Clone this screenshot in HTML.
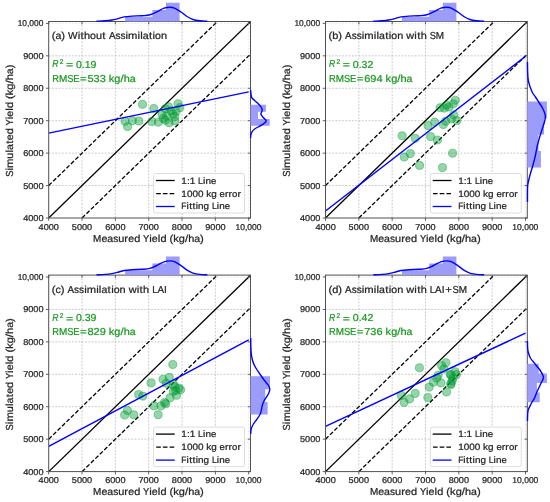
<!DOCTYPE html>
<html><head><meta charset="utf-8"><style>
html,body{margin:0;padding:0;background:#fff;}
svg{display:block;will-change:transform;}
text{font-family:"Liberation Sans", sans-serif;font-kerning:none;text-rendering:geometricPrecision;}
.tk{fill:#262626;stroke:#262626;stroke-width:0.24px;}
.tt{fill:#262626;stroke:#262626;stroke-width:0.24px;}
.gr{fill:#189820;stroke:#189820;stroke-width:0.22px;}
.lg{fill:#262626;stroke:#262626;stroke-width:0.24px;}
.al{fill:#262626;stroke:#262626;stroke-width:0.24px;}
</style></head><body>
<svg width="550" height="502" viewBox="0 0 550 502">
<rect width="550" height="502" fill="#fff"/>
<g transform="translate(0,0)">
<clipPath id="ca"><rect x="48.7" y="21.5" width="201.8" height="196.5"/></clipPath>
<path d="M82.03,21.5V218.0M48.7,185.57H250.5M115.37,21.5V218.0M48.7,153.13H250.5M148.7,21.5V218.0M48.7,120.7H250.5M182.03,21.5V218.0M48.7,88.27H250.5M215.37,21.5V218.0M48.7,55.83H250.5" stroke="#b4b4b4" stroke-width="0.7" stroke-dasharray="1.9,1.4" fill="none"/>
<path d="M248.7,21.5V218.0M48.7,23.4H250.5" stroke="#b4b4b4" stroke-opacity="0.4" stroke-width="0.7" stroke-dasharray="1.9,1.4" fill="none"/>
<g clip-path="url(#ca)">
<path d="M48.7,218L252.03,20.16" stroke="#000" stroke-width="1.3" fill="none"/>
<path d="M48.7,185.57L218.7,20.16M82.03,218L252.03,52.59" stroke="#000" stroke-width="1.3" stroke-dasharray="4.2,2" fill="none"/>
<circle cx="142.5" cy="104.3" r="4.05" fill="#009b32" fill-opacity="0.42" stroke="#009b32" stroke-opacity="0.42" stroke-width="1"/>
<circle cx="125" cy="121.3" r="4.05" fill="#009b32" fill-opacity="0.42" stroke="#009b32" stroke-opacity="0.42" stroke-width="1"/>
<circle cx="127.6" cy="126.5" r="4.05" fill="#009b32" fill-opacity="0.42" stroke="#009b32" stroke-opacity="0.42" stroke-width="1"/>
<circle cx="132.5" cy="120.7" r="4.05" fill="#009b32" fill-opacity="0.42" stroke="#009b32" stroke-opacity="0.42" stroke-width="1"/>
<circle cx="138.9" cy="121" r="4.05" fill="#009b32" fill-opacity="0.42" stroke="#009b32" stroke-opacity="0.42" stroke-width="1"/>
<circle cx="153.8" cy="108.5" r="4.05" fill="#009b32" fill-opacity="0.42" stroke="#009b32" stroke-opacity="0.42" stroke-width="1"/>
<circle cx="151.9" cy="121.6" r="4.05" fill="#009b32" fill-opacity="0.42" stroke="#009b32" stroke-opacity="0.42" stroke-width="1"/>
<circle cx="158.3" cy="122.2" r="4.05" fill="#009b32" fill-opacity="0.42" stroke="#009b32" stroke-opacity="0.42" stroke-width="1"/>
<circle cx="178" cy="103.7" r="4.05" fill="#009b32" fill-opacity="0.42" stroke="#009b32" stroke-opacity="0.42" stroke-width="1"/>
<circle cx="179.9" cy="107.6" r="4.05" fill="#009b32" fill-opacity="0.42" stroke="#009b32" stroke-opacity="0.42" stroke-width="1"/>
<circle cx="168.5" cy="106.9" r="4.05" fill="#009b32" fill-opacity="0.42" stroke="#009b32" stroke-opacity="0.42" stroke-width="1"/>
<circle cx="165.3" cy="108.8" r="4.05" fill="#009b32" fill-opacity="0.42" stroke="#009b32" stroke-opacity="0.42" stroke-width="1"/>
<circle cx="162.1" cy="114.6" r="4.05" fill="#009b32" fill-opacity="0.42" stroke="#009b32" stroke-opacity="0.42" stroke-width="1"/>
<circle cx="166.6" cy="115.8" r="4.05" fill="#009b32" fill-opacity="0.42" stroke="#009b32" stroke-opacity="0.42" stroke-width="1"/>
<circle cx="172.9" cy="113.9" r="4.05" fill="#009b32" fill-opacity="0.42" stroke="#009b32" stroke-opacity="0.42" stroke-width="1"/>
<circle cx="174.8" cy="116.5" r="4.05" fill="#009b32" fill-opacity="0.42" stroke="#009b32" stroke-opacity="0.42" stroke-width="1"/>
<circle cx="165.3" cy="120.3" r="4.05" fill="#009b32" fill-opacity="0.42" stroke="#009b32" stroke-opacity="0.42" stroke-width="1"/>
<circle cx="169.1" cy="122.8" r="4.05" fill="#009b32" fill-opacity="0.42" stroke="#009b32" stroke-opacity="0.42" stroke-width="1"/>
<circle cx="174.8" cy="120.9" r="4.05" fill="#009b32" fill-opacity="0.42" stroke="#009b32" stroke-opacity="0.42" stroke-width="1"/>
<circle cx="163.4" cy="118.4" r="4.05" fill="#009b32" fill-opacity="0.42" stroke="#009b32" stroke-opacity="0.42" stroke-width="1"/>
<circle cx="171" cy="110.7" r="4.05" fill="#009b32" fill-opacity="0.42" stroke="#009b32" stroke-opacity="0.42" stroke-width="1"/>
<circle cx="176.1" cy="111.4" r="4.05" fill="#009b32" fill-opacity="0.42" stroke="#009b32" stroke-opacity="0.42" stroke-width="1"/>
<path d="M48.7,133.09L248.7,91.9" stroke="#0000ff" stroke-width="1.4" fill="none"/>
</g>
<rect x="48.7" y="21.5" width="201.8" height="196.5" fill="none" stroke="#505050" stroke-width="1"/>
<path d="M48.7,218.0v2.8M48.7,218h-2.8M48.7,21.5v2.8M250.5,218h-2.4M82.03,218.0v2.8M48.7,185.57h-2.8M82.03,21.5v2.8M250.5,185.57h-2.4M115.37,218.0v2.8M48.7,153.13h-2.8M115.37,21.5v2.8M250.5,153.13h-2.4M148.7,218.0v2.8M48.7,120.7h-2.8M148.7,21.5v2.8M250.5,120.7h-2.4M182.03,218.0v2.8M48.7,88.27h-2.8M182.03,21.5v2.8M250.5,88.27h-2.4M215.37,218.0v2.8M48.7,55.83h-2.8M215.37,21.5v2.8M250.5,55.83h-2.4M248.7,218.0v2.8M48.7,23.4h-2.8M248.7,21.5v2.8M250.5,23.4h-2.4" stroke="#505050" stroke-width="0.9" fill="none"/>
<g font-size="8.48" class="tk"><text transform="translate(38.59,229.5) scale(1.079,1)">4</text><text transform="translate(43.68,229.5) scale(1.079,1)">0</text><text transform="translate(48.77,229.5) scale(1.079,1)">0</text><text transform="translate(53.86,229.5) scale(1.079,1)">0</text></g>
<g font-size="8.48" class="tk"><text transform="translate(23.17,221) scale(1.079,1)">4</text><text transform="translate(28.26,221) scale(1.079,1)">0</text><text transform="translate(33.35,221) scale(1.079,1)">0</text><text transform="translate(38.44,221) scale(1.079,1)">0</text></g>
<g font-size="8.48" class="tk"><text transform="translate(71.81,229.5) scale(1.079,1)">5</text><text transform="translate(76.9,229.5) scale(1.079,1)">0</text><text transform="translate(81.99,229.5) scale(1.079,1)">0</text><text transform="translate(87.08,229.5) scale(1.079,1)">0</text></g>
<g font-size="8.48" class="tk"><text transform="translate(23.17,188.57) scale(1.079,1)">5</text><text transform="translate(28.26,188.57) scale(1.079,1)">0</text><text transform="translate(33.35,188.57) scale(1.079,1)">0</text><text transform="translate(38.44,188.57) scale(1.079,1)">0</text></g>
<g font-size="8.48" class="tk"><text transform="translate(105.17,229.5) scale(1.079,1)">6</text><text transform="translate(110.26,229.5) scale(1.079,1)">0</text><text transform="translate(115.35,229.5) scale(1.079,1)">0</text><text transform="translate(120.44,229.5) scale(1.079,1)">0</text></g>
<g font-size="8.48" class="tk"><text transform="translate(23.17,156.13) scale(1.079,1)">6</text><text transform="translate(28.26,156.13) scale(1.079,1)">0</text><text transform="translate(33.35,156.13) scale(1.079,1)">0</text><text transform="translate(38.44,156.13) scale(1.079,1)">0</text></g>
<g font-size="8.48" class="tk"><text transform="translate(138.46,229.5) scale(1.079,1)">7</text><text transform="translate(143.55,229.5) scale(1.079,1)">0</text><text transform="translate(148.64,229.5) scale(1.079,1)">0</text><text transform="translate(153.73,229.5) scale(1.079,1)">0</text></g>
<g font-size="8.48" class="tk"><text transform="translate(23.17,123.7) scale(1.079,1)">7</text><text transform="translate(28.26,123.7) scale(1.079,1)">0</text><text transform="translate(33.35,123.7) scale(1.079,1)">0</text><text transform="translate(38.44,123.7) scale(1.079,1)">0</text></g>
<g font-size="8.48" class="tk"><text transform="translate(171.85,229.5) scale(1.079,1)">8</text><text transform="translate(176.94,229.5) scale(1.079,1)">0</text><text transform="translate(182.03,229.5) scale(1.079,1)">0</text><text transform="translate(187.12,229.5) scale(1.079,1)">0</text></g>
<g font-size="8.48" class="tk"><text transform="translate(23.17,91.27) scale(1.079,1)">8</text><text transform="translate(28.26,91.27) scale(1.079,1)">0</text><text transform="translate(33.35,91.27) scale(1.079,1)">0</text><text transform="translate(38.44,91.27) scale(1.079,1)">0</text></g>
<g font-size="8.48" class="tk"><text transform="translate(205.2,229.5) scale(1.079,1)">9</text><text transform="translate(210.29,229.5) scale(1.079,1)">0</text><text transform="translate(215.38,229.5) scale(1.079,1)">0</text><text transform="translate(220.47,229.5) scale(1.079,1)">0</text></g>
<g font-size="8.48" class="tk"><text transform="translate(23.17,58.83) scale(1.079,1)">9</text><text transform="translate(28.26,58.83) scale(1.079,1)">0</text><text transform="translate(33.35,58.83) scale(1.079,1)">0</text><text transform="translate(38.44,58.83) scale(1.079,1)">0</text></g>
<text x="235.55" y="229.5" font-size="8.48" textLength="25.98" lengthAdjust="spacingAndGlyphs" class="tk">10,000</text>
<text x="17.66" y="26.4" font-size="8.48" textLength="25.67" lengthAdjust="spacingAndGlyphs" class="tk">10,000</text>
<g font-size="10.18" class="tt"><text transform="translate(51.67,39.2) scale(1.105,1)">(</text><text transform="translate(55.42,39.2) scale(1.039,1)">a</text><text transform="translate(61.3,39.2) scale(1.105,1)">)</text><text transform="translate(68.1,39.2) scale(0.988,1)">W</text><text transform="translate(77.66,39.2) scale(1.120,1)">i</text><text transform="translate(80.56,39.2) scale(1.120,1)">t</text><text transform="translate(84.02,39.2) scale(1.075,1)">h</text><text transform="translate(90.11,39.2) scale(1.038,1)">o</text><text transform="translate(95.98,39.2) scale(1.075,1)">u</text><text transform="translate(102.36,39.2) scale(1.120,1)">t</text><text transform="translate(108.88,39.2) scale(0.968,1)">A</text><text transform="translate(115.45,39.2) scale(0.983,1)">s</text><text transform="translate(120.45,39.2) scale(0.983,1)">s</text><text transform="translate(125.52,39.2) scale(1.120,1)">i</text><text transform="translate(128.12,39.2) scale(1.103,1)">m</text><text transform="translate(137.54,39.2) scale(1.120,1)">i</text><text transform="translate(140.21,39.2) scale(1.120,1)">l</text><text transform="translate(142.8,39.2) scale(1.039,1)">a</text><text transform="translate(148.99,39.2) scale(1.120,1)">t</text><text transform="translate(152.52,39.2) scale(1.120,1)">i</text><text transform="translate(155.12,39.2) scale(1.038,1)">o</text><text transform="translate(160.99,39.2) scale(1.075,1)">n</text></g>
<text x="52.23" y="67.4" font-size="10.18" textLength="6.23" lengthAdjust="spacingAndGlyphs" class="gr" font-style="italic">R</text>
<text x="59.77" y="64.1" font-size="7.1" textLength="3.66" lengthAdjust="spacingAndGlyphs" class="gr">2</text>
<text x="66" y="68.2" font-size="10.18" textLength="7.21" lengthAdjust="spacingAndGlyphs" class="gr">=</text>
<text x="75.99" y="67.5" font-size="10.18" textLength="20.51" lengthAdjust="spacingAndGlyphs" class="gr">0.19</text>
<g font-size="10.18" class="gr"><text transform="translate(52.21,81.8) scale(0.920,1)">R</text><text transform="translate(58.93,81.8) scale(0.977,1)">M</text><text transform="translate(67.14,81.8) scale(0.920,1)">S</text><text transform="translate(73.22,81.8) scale(0.920,1)">E</text><text transform="translate(80.06,81.8) scale(1.120,1)">=</text><text transform="translate(87.41,81.8) scale(1.079,1)">5</text><text transform="translate(93.52,81.8) scale(1.079,1)">3</text><text transform="translate(99.63,81.8) scale(1.079,1)">3</text><text transform="translate(108.79,81.8) scale(1.093,1)">k</text><text transform="translate(114.35,81.8) scale(1.077,1)">g</text><text transform="translate(120.48,81.8) scale(1.120,1)">/</text><text transform="translate(123.68,81.8) scale(1.075,1)">h</text><text transform="translate(129.76,81.8) scale(1.039,1)">a</text></g>
<rect x="153.6" y="173.5" width="90.9" height="39.5" rx="2" fill="#fff" fill-opacity="0.97" stroke="#d4d4d4" stroke-width="0.8"/>
<path d="M155.9,180.5h18.8" stroke="#000" stroke-width="1.3"/>
<path d="M156.2,193.6h18.5" stroke="#000" stroke-width="1.3" stroke-dasharray="4.6,2.1"/>
<path d="M155.9,206.5h18.8" stroke="#0000ff" stroke-width="1.3"/>
<g font-size="9.22" class="lg"><text transform="translate(181.34,183.8) scale(1.079,1)">1</text><text transform="translate(186.91,183.8) scale(1.120,1)">:</text><text transform="translate(189.81,183.8) scale(1.079,1)">1</text><text transform="translate(198.11,183.8) scale(0.945,1)">L</text><text transform="translate(203.02,183.8) scale(1.120,1)">i</text><text transform="translate(205.38,183.8) scale(1.075,1)">n</text><text transform="translate(210.89,183.8) scale(1.044,1)">e</text></g>
<g font-size="9.22" class="lg"><text transform="translate(181.34,196.6) scale(1.079,1)">1</text><text transform="translate(186.88,196.6) scale(1.079,1)">0</text><text transform="translate(192.41,196.6) scale(1.079,1)">0</text><text transform="translate(197.95,196.6) scale(1.079,1)">0</text><text transform="translate(206.25,196.6) scale(1.093,1)">k</text><text transform="translate(211.29,196.6) scale(1.077,1)">g</text><text transform="translate(219.58,196.6) scale(1.044,1)">e</text><text transform="translate(225,196.6) scale(1.120,1)">r</text><text transform="translate(228.57,196.6) scale(1.120,1)">r</text><text transform="translate(232.08,196.6) scale(1.038,1)">o</text><text transform="translate(237.47,196.6) scale(1.120,1)">r</text></g>
<g font-size="9.22" class="lg"><text transform="translate(181.36,209.4) scale(0.920,1)">F</text><text transform="translate(186.51,209.4) scale(1.120,1)">i</text><text transform="translate(189.14,209.4) scale(1.120,1)">t</text><text transform="translate(192.55,209.4) scale(1.120,1)">t</text><text transform="translate(195.75,209.4) scale(1.120,1)">i</text><text transform="translate(198.11,209.4) scale(1.075,1)">n</text><text transform="translate(203.62,209.4) scale(1.077,1)">g</text><text transform="translate(211.91,209.4) scale(0.945,1)">L</text><text transform="translate(216.82,209.4) scale(1.120,1)">i</text><text transform="translate(219.17,209.4) scale(1.075,1)">n</text><text transform="translate(224.69,209.4) scale(1.044,1)">e</text></g>
<path d="M125.1,21.5V16.7H138.7V21.5ZM138.7,21.5V16.7H152.4V21.5ZM152.4,21.5V9.9H166.0V21.5ZM166.0,21.5V2.8H179.6V21.5Z" fill="#9c9cfa"/>
<path d="M96.5,21.2C97.92,21.13 102.42,21 105,20.8C107.58,20.6 109.83,20.37 112,20C114.17,19.63 116,19.12 118,18.6C120,18.08 121.67,17.32 124,16.9C126.33,16.48 129,16.3 132,16.1C135,15.9 139,15.92 142,15.7C145,15.48 147.33,15.53 150,14.8C152.67,14.07 155.67,12.4 158,11.3C160.33,10.2 162,8.87 164,8.2C166,7.53 168.17,7.28 170,7.3C171.83,7.32 173.17,7.52 175,8.3C176.83,9.08 179,10.63 181,12C183,13.37 185,15.25 187,16.5C189,17.75 190.83,18.78 193,19.5C195.17,20.22 197.62,20.52 200,20.8C202.38,21.08 206.08,21.13 207.3,21.2" stroke="#0000ff" stroke-width="1.4" fill="none"/>
<path d="M250.5,104.7H265.9V111.7H250.5ZM250.5,111.7H258V119.1H250.5ZM250.5,119.1H269.7V125.8H250.5Z" fill="#9c9cfa"/>
<path d="M250.6,90C250.67,90.67 250.77,92.67 251,94C251.23,95.33 250.92,96.5 252,98C253.08,99.5 255.93,101.42 257.5,103C259.07,104.58 260.62,106.23 261.4,107.5C262.18,108.77 262.28,109.53 262.2,110.6C262.12,111.67 260.82,112.83 260.9,113.9C260.98,114.97 261.82,115.83 262.7,117C263.58,118.17 266.33,119.58 266.2,120.9C266.07,122.22 263.77,123.58 261.9,124.9C260.03,126.22 256.65,127.65 255,128.8C253.35,129.95 252.7,130.77 252,131.8C251.3,132.83 251.03,133.97 250.8,135C250.57,136.03 250.63,137.5 250.6,138" stroke="#0000ff" stroke-width="1.4" fill="none"/>
<g font-size="10.18" class="al"><text transform="translate(93.12,241.6) scale(0.977,1)">M</text><text transform="translate(101.4,241.6) scale(1.044,1)">e</text><text transform="translate(107.3,241.6) scale(1.039,1)">a</text><text transform="translate(113.19,241.6) scale(0.983,1)">s</text><text transform="translate(118.19,241.6) scale(1.075,1)">u</text><text transform="translate(124.35,241.6) scale(1.120,1)">r</text><text transform="translate(128.22,241.6) scale(1.044,1)">e</text><text transform="translate(134.13,241.6) scale(1.077,1)">d</text><text transform="translate(143.08,241.6) scale(0.920,1)">Y</text><text transform="translate(149.2,241.6) scale(1.120,1)">i</text><text transform="translate(151.8,241.6) scale(1.044,1)">e</text><text transform="translate(157.78,241.6) scale(1.120,1)">l</text><text transform="translate(160.38,241.6) scale(1.077,1)">d</text><text transform="translate(169.52,241.6) scale(1.105,1)">(</text><text transform="translate(173.27,241.6) scale(1.093,1)">k</text><text transform="translate(178.83,241.6) scale(1.077,1)">g</text><text transform="translate(184.95,241.6) scale(1.120,1)">/</text><text transform="translate(188.15,241.6) scale(1.075,1)">h</text><text transform="translate(194.24,241.6) scale(1.039,1)">a</text><text transform="translate(200.12,241.6) scale(1.105,1)">)</text></g>
<g transform="translate(12.8,120.8) rotate(-90)"><g font-size="10.18" class="al"><text transform="translate(-56.06,0) scale(0.920,1)">S</text><text transform="translate(-49.82,0) scale(1.120,1)">i</text><text transform="translate(-47.22,0) scale(1.103,1)">m</text><text transform="translate(-37.87,0) scale(1.075,1)">u</text><text transform="translate(-31.72,0) scale(1.120,1)">l</text><text transform="translate(-29.12,0) scale(1.039,1)">a</text><text transform="translate(-22.94,0) scale(1.120,1)">t</text><text transform="translate(-19.47,0) scale(1.044,1)">e</text><text transform="translate(-13.57,0) scale(1.077,1)">d</text><text transform="translate(-4.61,0) scale(0.920,1)">Y</text><text transform="translate(1.51,0) scale(1.120,1)">i</text><text transform="translate(4.11,0) scale(1.044,1)">e</text><text transform="translate(10.08,0) scale(1.120,1)">l</text><text transform="translate(12.68,0) scale(1.077,1)">d</text><text transform="translate(21.83,0) scale(1.105,1)">(</text><text transform="translate(25.57,0) scale(1.093,1)">k</text><text transform="translate(31.13,0) scale(1.077,1)">g</text><text transform="translate(37.26,0) scale(1.120,1)">/</text><text transform="translate(40.46,0) scale(1.075,1)">h</text><text transform="translate(46.55,0) scale(1.039,1)">a</text><text transform="translate(52.43,0) scale(1.105,1)">)</text></g></g>
</g><g transform="translate(276.8,0)">
<clipPath id="cb"><rect x="48.7" y="21.5" width="201.8" height="196.5"/></clipPath>
<path d="M82.03,21.5V218.0M48.7,185.57H250.5M115.37,21.5V218.0M48.7,153.13H250.5M148.7,21.5V218.0M48.7,120.7H250.5M182.03,21.5V218.0M48.7,88.27H250.5M215.37,21.5V218.0M48.7,55.83H250.5" stroke="#b4b4b4" stroke-width="0.7" stroke-dasharray="1.9,1.4" fill="none"/>
<path d="M248.7,21.5V218.0M48.7,23.4H250.5" stroke="#b4b4b4" stroke-opacity="0.4" stroke-width="0.7" stroke-dasharray="1.9,1.4" fill="none"/>
<g clip-path="url(#cb)">
<path d="M48.7,218L252.03,20.16" stroke="#000" stroke-width="1.3" fill="none"/>
<path d="M48.7,185.57L218.7,20.16M82.03,218L252.03,52.59" stroke="#000" stroke-width="1.3" stroke-dasharray="4.2,2" fill="none"/>
<circle cx="125.3" cy="135.8" r="4.05" fill="#009b32" fill-opacity="0.42" stroke="#009b32" stroke-opacity="0.42" stroke-width="1"/>
<circle cx="138.5" cy="138.3" r="4.05" fill="#009b32" fill-opacity="0.42" stroke="#009b32" stroke-opacity="0.42" stroke-width="1"/>
<circle cx="133.5" cy="153.6" r="4.05" fill="#009b32" fill-opacity="0.42" stroke="#009b32" stroke-opacity="0.42" stroke-width="1"/>
<circle cx="127.5" cy="157" r="4.05" fill="#009b32" fill-opacity="0.42" stroke="#009b32" stroke-opacity="0.42" stroke-width="1"/>
<circle cx="142.8" cy="165.4" r="4.05" fill="#009b32" fill-opacity="0.42" stroke="#009b32" stroke-opacity="0.42" stroke-width="1"/>
<circle cx="165.7" cy="167.6" r="4.05" fill="#009b32" fill-opacity="0.42" stroke="#009b32" stroke-opacity="0.42" stroke-width="1"/>
<circle cx="175.8" cy="153.2" r="4.05" fill="#009b32" fill-opacity="0.42" stroke="#009b32" stroke-opacity="0.42" stroke-width="1"/>
<circle cx="153.8" cy="136.6" r="4.05" fill="#009b32" fill-opacity="0.42" stroke="#009b32" stroke-opacity="0.42" stroke-width="1"/>
<circle cx="160.6" cy="140" r="4.05" fill="#009b32" fill-opacity="0.42" stroke="#009b32" stroke-opacity="0.42" stroke-width="1"/>
<circle cx="151.2" cy="125.6" r="4.05" fill="#009b32" fill-opacity="0.42" stroke="#009b32" stroke-opacity="0.42" stroke-width="1"/>
<circle cx="157.8" cy="122.1" r="4.05" fill="#009b32" fill-opacity="0.42" stroke="#009b32" stroke-opacity="0.42" stroke-width="1"/>
<circle cx="166.5" cy="124.5" r="4.05" fill="#009b32" fill-opacity="0.42" stroke="#009b32" stroke-opacity="0.42" stroke-width="1"/>
<circle cx="168.9" cy="121.3" r="4.05" fill="#009b32" fill-opacity="0.42" stroke="#009b32" stroke-opacity="0.42" stroke-width="1"/>
<circle cx="174.5" cy="118.9" r="4.05" fill="#009b32" fill-opacity="0.42" stroke="#009b32" stroke-opacity="0.42" stroke-width="1"/>
<circle cx="180.1" cy="120.5" r="4.05" fill="#009b32" fill-opacity="0.42" stroke="#009b32" stroke-opacity="0.42" stroke-width="1"/>
<circle cx="176.9" cy="114.9" r="4.05" fill="#009b32" fill-opacity="0.42" stroke="#009b32" stroke-opacity="0.42" stroke-width="1"/>
<circle cx="167.7" cy="108.1" r="4.05" fill="#009b32" fill-opacity="0.42" stroke="#009b32" stroke-opacity="0.42" stroke-width="1"/>
<circle cx="172.1" cy="107" r="4.05" fill="#009b32" fill-opacity="0.42" stroke="#009b32" stroke-opacity="0.42" stroke-width="1"/>
<circle cx="169.7" cy="105" r="4.05" fill="#009b32" fill-opacity="0.42" stroke="#009b32" stroke-opacity="0.42" stroke-width="1"/>
<circle cx="163.3" cy="107.7" r="4.05" fill="#009b32" fill-opacity="0.42" stroke="#009b32" stroke-opacity="0.42" stroke-width="1"/>
<circle cx="176.5" cy="103.8" r="4.05" fill="#009b32" fill-opacity="0.42" stroke="#009b32" stroke-opacity="0.42" stroke-width="1"/>
<circle cx="178.5" cy="100.2" r="4.05" fill="#009b32" fill-opacity="0.42" stroke="#009b32" stroke-opacity="0.42" stroke-width="1"/>
<path d="M48.7,210.99L248.7,56.38" stroke="#0000ff" stroke-width="1.4" fill="none"/>
</g>
<rect x="48.7" y="21.5" width="201.8" height="196.5" fill="none" stroke="#505050" stroke-width="1"/>
<path d="M48.7,218.0v2.8M48.7,218h-2.8M48.7,21.5v2.8M250.5,218h-2.4M82.03,218.0v2.8M48.7,185.57h-2.8M82.03,21.5v2.8M250.5,185.57h-2.4M115.37,218.0v2.8M48.7,153.13h-2.8M115.37,21.5v2.8M250.5,153.13h-2.4M148.7,218.0v2.8M48.7,120.7h-2.8M148.7,21.5v2.8M250.5,120.7h-2.4M182.03,218.0v2.8M48.7,88.27h-2.8M182.03,21.5v2.8M250.5,88.27h-2.4M215.37,218.0v2.8M48.7,55.83h-2.8M215.37,21.5v2.8M250.5,55.83h-2.4M248.7,218.0v2.8M48.7,23.4h-2.8M248.7,21.5v2.8M250.5,23.4h-2.4" stroke="#505050" stroke-width="0.9" fill="none"/>
<g font-size="8.48" class="tk"><text transform="translate(38.59,229.5) scale(1.079,1)">4</text><text transform="translate(43.68,229.5) scale(1.079,1)">0</text><text transform="translate(48.77,229.5) scale(1.079,1)">0</text><text transform="translate(53.86,229.5) scale(1.079,1)">0</text></g>
<g font-size="8.48" class="tk"><text transform="translate(23.17,221) scale(1.079,1)">4</text><text transform="translate(28.26,221) scale(1.079,1)">0</text><text transform="translate(33.35,221) scale(1.079,1)">0</text><text transform="translate(38.44,221) scale(1.079,1)">0</text></g>
<g font-size="8.48" class="tk"><text transform="translate(71.81,229.5) scale(1.079,1)">5</text><text transform="translate(76.9,229.5) scale(1.079,1)">0</text><text transform="translate(81.99,229.5) scale(1.079,1)">0</text><text transform="translate(87.08,229.5) scale(1.079,1)">0</text></g>
<g font-size="8.48" class="tk"><text transform="translate(23.17,188.57) scale(1.079,1)">5</text><text transform="translate(28.26,188.57) scale(1.079,1)">0</text><text transform="translate(33.35,188.57) scale(1.079,1)">0</text><text transform="translate(38.44,188.57) scale(1.079,1)">0</text></g>
<g font-size="8.48" class="tk"><text transform="translate(105.17,229.5) scale(1.079,1)">6</text><text transform="translate(110.26,229.5) scale(1.079,1)">0</text><text transform="translate(115.35,229.5) scale(1.079,1)">0</text><text transform="translate(120.44,229.5) scale(1.079,1)">0</text></g>
<g font-size="8.48" class="tk"><text transform="translate(23.17,156.13) scale(1.079,1)">6</text><text transform="translate(28.26,156.13) scale(1.079,1)">0</text><text transform="translate(33.35,156.13) scale(1.079,1)">0</text><text transform="translate(38.44,156.13) scale(1.079,1)">0</text></g>
<g font-size="8.48" class="tk"><text transform="translate(138.46,229.5) scale(1.079,1)">7</text><text transform="translate(143.55,229.5) scale(1.079,1)">0</text><text transform="translate(148.64,229.5) scale(1.079,1)">0</text><text transform="translate(153.73,229.5) scale(1.079,1)">0</text></g>
<g font-size="8.48" class="tk"><text transform="translate(23.17,123.7) scale(1.079,1)">7</text><text transform="translate(28.26,123.7) scale(1.079,1)">0</text><text transform="translate(33.35,123.7) scale(1.079,1)">0</text><text transform="translate(38.44,123.7) scale(1.079,1)">0</text></g>
<g font-size="8.48" class="tk"><text transform="translate(171.85,229.5) scale(1.079,1)">8</text><text transform="translate(176.94,229.5) scale(1.079,1)">0</text><text transform="translate(182.03,229.5) scale(1.079,1)">0</text><text transform="translate(187.12,229.5) scale(1.079,1)">0</text></g>
<g font-size="8.48" class="tk"><text transform="translate(23.17,91.27) scale(1.079,1)">8</text><text transform="translate(28.26,91.27) scale(1.079,1)">0</text><text transform="translate(33.35,91.27) scale(1.079,1)">0</text><text transform="translate(38.44,91.27) scale(1.079,1)">0</text></g>
<g font-size="8.48" class="tk"><text transform="translate(205.2,229.5) scale(1.079,1)">9</text><text transform="translate(210.29,229.5) scale(1.079,1)">0</text><text transform="translate(215.38,229.5) scale(1.079,1)">0</text><text transform="translate(220.47,229.5) scale(1.079,1)">0</text></g>
<g font-size="8.48" class="tk"><text transform="translate(23.17,58.83) scale(1.079,1)">9</text><text transform="translate(28.26,58.83) scale(1.079,1)">0</text><text transform="translate(33.35,58.83) scale(1.079,1)">0</text><text transform="translate(38.44,58.83) scale(1.079,1)">0</text></g>
<text x="235.55" y="229.5" font-size="8.48" textLength="25.98" lengthAdjust="spacingAndGlyphs" class="tk">10,000</text>
<text x="17.66" y="26.4" font-size="8.48" textLength="25.67" lengthAdjust="spacingAndGlyphs" class="tk">10,000</text>
<g font-size="10.18" class="tt"><text transform="translate(51.67,39.2) scale(1.105,1)">(</text><text transform="translate(55.42,39.2) scale(1.077,1)">b</text><text transform="translate(61.51,39.2) scale(1.105,1)">)</text><text transform="translate(68.31,39.2) scale(0.968,1)">A</text><text transform="translate(74.88,39.2) scale(0.983,1)">s</text><text transform="translate(79.88,39.2) scale(0.983,1)">s</text><text transform="translate(84.95,39.2) scale(1.120,1)">i</text><text transform="translate(87.55,39.2) scale(1.103,1)">m</text><text transform="translate(96.97,39.2) scale(1.120,1)">i</text><text transform="translate(99.63,39.2) scale(1.120,1)">l</text><text transform="translate(102.23,39.2) scale(1.039,1)">a</text><text transform="translate(108.42,39.2) scale(1.120,1)">t</text><text transform="translate(111.95,39.2) scale(1.120,1)">i</text><text transform="translate(114.55,39.2) scale(1.038,1)">o</text><text transform="translate(120.42,39.2) scale(1.075,1)">n</text><text transform="translate(129.56,39.2) scale(1.068,1)">w</text><text transform="translate(137.48,39.2) scale(1.120,1)">i</text><text transform="translate(140.38,39.2) scale(1.120,1)">t</text><text transform="translate(143.84,39.2) scale(1.075,1)">h</text><text transform="translate(152.9,39.2) scale(0.920,1)">S</text><text transform="translate(159.07,39.2) scale(0.977,1)">M</text></g>
<text x="52.23" y="67.4" font-size="10.18" textLength="6.23" lengthAdjust="spacingAndGlyphs" class="gr" font-style="italic">R</text>
<text x="59.77" y="64.1" font-size="7.1" textLength="3.66" lengthAdjust="spacingAndGlyphs" class="gr">2</text>
<text x="66" y="68.2" font-size="10.18" textLength="7.21" lengthAdjust="spacingAndGlyphs" class="gr">=</text>
<text x="75.99" y="67.5" font-size="10.18" textLength="20.54" lengthAdjust="spacingAndGlyphs" class="gr">0.32</text>
<g font-size="10.18" class="gr"><text transform="translate(52.21,81.8) scale(0.920,1)">R</text><text transform="translate(58.93,81.8) scale(0.977,1)">M</text><text transform="translate(67.14,81.8) scale(0.920,1)">S</text><text transform="translate(73.22,81.8) scale(0.920,1)">E</text><text transform="translate(80.06,81.8) scale(1.120,1)">=</text><text transform="translate(87.41,81.8) scale(1.079,1)">6</text><text transform="translate(93.52,81.8) scale(1.079,1)">9</text><text transform="translate(99.63,81.8) scale(1.079,1)">4</text><text transform="translate(108.79,81.8) scale(1.093,1)">k</text><text transform="translate(114.35,81.8) scale(1.077,1)">g</text><text transform="translate(120.48,81.8) scale(1.120,1)">/</text><text transform="translate(123.68,81.8) scale(1.075,1)">h</text><text transform="translate(129.76,81.8) scale(1.039,1)">a</text></g>
<rect x="153.6" y="173.5" width="90.9" height="39.5" rx="2" fill="#fff" fill-opacity="0.97" stroke="#d4d4d4" stroke-width="0.8"/>
<path d="M155.9,180.5h18.8" stroke="#000" stroke-width="1.3"/>
<path d="M156.2,193.6h18.5" stroke="#000" stroke-width="1.3" stroke-dasharray="4.6,2.1"/>
<path d="M155.9,206.5h18.8" stroke="#0000ff" stroke-width="1.3"/>
<g font-size="9.22" class="lg"><text transform="translate(181.34,183.8) scale(1.079,1)">1</text><text transform="translate(186.91,183.8) scale(1.120,1)">:</text><text transform="translate(189.81,183.8) scale(1.079,1)">1</text><text transform="translate(198.11,183.8) scale(0.945,1)">L</text><text transform="translate(203.02,183.8) scale(1.120,1)">i</text><text transform="translate(205.38,183.8) scale(1.075,1)">n</text><text transform="translate(210.89,183.8) scale(1.044,1)">e</text></g>
<g font-size="9.22" class="lg"><text transform="translate(181.34,196.6) scale(1.079,1)">1</text><text transform="translate(186.88,196.6) scale(1.079,1)">0</text><text transform="translate(192.41,196.6) scale(1.079,1)">0</text><text transform="translate(197.95,196.6) scale(1.079,1)">0</text><text transform="translate(206.25,196.6) scale(1.093,1)">k</text><text transform="translate(211.29,196.6) scale(1.077,1)">g</text><text transform="translate(219.58,196.6) scale(1.044,1)">e</text><text transform="translate(225,196.6) scale(1.120,1)">r</text><text transform="translate(228.57,196.6) scale(1.120,1)">r</text><text transform="translate(232.08,196.6) scale(1.038,1)">o</text><text transform="translate(237.47,196.6) scale(1.120,1)">r</text></g>
<g font-size="9.22" class="lg"><text transform="translate(181.36,209.4) scale(0.920,1)">F</text><text transform="translate(186.51,209.4) scale(1.120,1)">i</text><text transform="translate(189.14,209.4) scale(1.120,1)">t</text><text transform="translate(192.55,209.4) scale(1.120,1)">t</text><text transform="translate(195.75,209.4) scale(1.120,1)">i</text><text transform="translate(198.11,209.4) scale(1.075,1)">n</text><text transform="translate(203.62,209.4) scale(1.077,1)">g</text><text transform="translate(211.91,209.4) scale(0.945,1)">L</text><text transform="translate(216.82,209.4) scale(1.120,1)">i</text><text transform="translate(219.17,209.4) scale(1.075,1)">n</text><text transform="translate(224.69,209.4) scale(1.044,1)">e</text></g>
<path d="M125.1,21.5V16.7H138.7V21.5ZM138.7,21.5V16.7H152.4V21.5ZM152.4,21.5V9.9H166.0V21.5ZM166.0,21.5V2.8H179.6V21.5Z" fill="#9c9cfa"/>
<path d="M96.5,21.2C97.92,21.13 102.42,21 105,20.8C107.58,20.6 109.83,20.37 112,20C114.17,19.63 116,19.12 118,18.6C120,18.08 121.67,17.32 124,16.9C126.33,16.48 129,16.3 132,16.1C135,15.9 139,15.92 142,15.7C145,15.48 147.33,15.53 150,14.8C152.67,14.07 155.67,12.4 158,11.3C160.33,10.2 162,8.87 164,8.2C166,7.53 168.17,7.28 170,7.3C171.83,7.32 173.17,7.52 175,8.3C176.83,9.08 179,10.63 181,12C183,13.37 185,15.25 187,16.5C189,17.75 190.83,18.78 193,19.5C195.17,20.22 197.62,20.52 200,20.8C202.38,21.08 206.08,21.13 207.3,21.2" stroke="#0000ff" stroke-width="1.4" fill="none"/>
<path d="M250.5,101.4H270.1V118.6H250.5ZM250.5,118.6H267.2V134.4H250.5ZM250.5,134.4H261.6V151.1H250.5ZM250.5,151.1H264.1V167.6H250.5Z" fill="#9c9cfa"/>
<path d="M250.7,62C250.72,63.33 250.65,66.83 250.8,70C250.95,73.17 250.87,77.37 251.6,81C252.33,84.63 254.02,89.13 255.2,91.8C256.38,94.47 257.53,95.22 258.7,97C259.87,98.78 261.03,100.67 262.2,102.5C263.37,104.33 264.7,106.08 265.7,108C266.7,109.92 267.73,112.42 268.2,114C268.67,115.58 268.62,116.08 268.5,117.5C268.38,118.92 268.02,120.58 267.5,122.5C266.98,124.42 266.12,126.75 265.4,129C264.68,131.25 263.98,133.33 263.2,136C262.42,138.67 261.45,141.83 260.7,145C259.95,148.17 259.45,151.67 258.7,155C257.95,158.33 257.12,161.67 256.2,165C255.28,168.33 254.07,171.73 253.2,175C252.33,178.27 251.42,181.43 251,184.6C250.58,187.77 250.75,191.1 250.7,194C250.65,196.9 250.7,200.67 250.7,202" stroke="#0000ff" stroke-width="1.4" fill="none"/>
<g font-size="10.18" class="al"><text transform="translate(93.12,241.6) scale(0.977,1)">M</text><text transform="translate(101.4,241.6) scale(1.044,1)">e</text><text transform="translate(107.3,241.6) scale(1.039,1)">a</text><text transform="translate(113.19,241.6) scale(0.983,1)">s</text><text transform="translate(118.19,241.6) scale(1.075,1)">u</text><text transform="translate(124.35,241.6) scale(1.120,1)">r</text><text transform="translate(128.22,241.6) scale(1.044,1)">e</text><text transform="translate(134.13,241.6) scale(1.077,1)">d</text><text transform="translate(143.08,241.6) scale(0.920,1)">Y</text><text transform="translate(149.2,241.6) scale(1.120,1)">i</text><text transform="translate(151.8,241.6) scale(1.044,1)">e</text><text transform="translate(157.78,241.6) scale(1.120,1)">l</text><text transform="translate(160.38,241.6) scale(1.077,1)">d</text><text transform="translate(169.52,241.6) scale(1.105,1)">(</text><text transform="translate(173.27,241.6) scale(1.093,1)">k</text><text transform="translate(178.83,241.6) scale(1.077,1)">g</text><text transform="translate(184.95,241.6) scale(1.120,1)">/</text><text transform="translate(188.15,241.6) scale(1.075,1)">h</text><text transform="translate(194.24,241.6) scale(1.039,1)">a</text><text transform="translate(200.12,241.6) scale(1.105,1)">)</text></g>
<g transform="translate(12.8,120.8) rotate(-90)"><g font-size="10.18" class="al"><text transform="translate(-56.06,0) scale(0.920,1)">S</text><text transform="translate(-49.82,0) scale(1.120,1)">i</text><text transform="translate(-47.22,0) scale(1.103,1)">m</text><text transform="translate(-37.87,0) scale(1.075,1)">u</text><text transform="translate(-31.72,0) scale(1.120,1)">l</text><text transform="translate(-29.12,0) scale(1.039,1)">a</text><text transform="translate(-22.94,0) scale(1.120,1)">t</text><text transform="translate(-19.47,0) scale(1.044,1)">e</text><text transform="translate(-13.57,0) scale(1.077,1)">d</text><text transform="translate(-4.61,0) scale(0.920,1)">Y</text><text transform="translate(1.51,0) scale(1.120,1)">i</text><text transform="translate(4.11,0) scale(1.044,1)">e</text><text transform="translate(10.08,0) scale(1.120,1)">l</text><text transform="translate(12.68,0) scale(1.077,1)">d</text><text transform="translate(21.83,0) scale(1.105,1)">(</text><text transform="translate(25.57,0) scale(1.093,1)">k</text><text transform="translate(31.13,0) scale(1.077,1)">g</text><text transform="translate(37.26,0) scale(1.120,1)">/</text><text transform="translate(40.46,0) scale(1.075,1)">h</text><text transform="translate(46.55,0) scale(1.039,1)">a</text><text transform="translate(52.43,0) scale(1.105,1)">)</text></g></g>
</g><g transform="translate(0,253.6)">
<clipPath id="cc"><rect x="48.7" y="21.5" width="201.8" height="196.5"/></clipPath>
<path d="M82.03,21.5V218.0M48.7,185.57H250.5M115.37,21.5V218.0M48.7,153.13H250.5M148.7,21.5V218.0M48.7,120.7H250.5M182.03,21.5V218.0M48.7,88.27H250.5M215.37,21.5V218.0M48.7,55.83H250.5" stroke="#b4b4b4" stroke-width="0.7" stroke-dasharray="1.9,1.4" fill="none"/>
<path d="M248.7,21.5V218.0M48.7,23.4H250.5" stroke="#b4b4b4" stroke-opacity="0.4" stroke-width="0.7" stroke-dasharray="1.9,1.4" fill="none"/>
<g clip-path="url(#cc)">
<path d="M48.7,218L252.03,20.16" stroke="#000" stroke-width="1.3" fill="none"/>
<path d="M48.7,185.57L218.7,20.16M82.03,218L252.03,52.59" stroke="#000" stroke-width="1.3" stroke-dasharray="4.2,2" fill="none"/>
<circle cx="172.8" cy="110.9" r="4.05" fill="#009b32" fill-opacity="0.42" stroke="#009b32" stroke-opacity="0.42" stroke-width="1"/>
<circle cx="151.1" cy="129.3" r="4.05" fill="#009b32" fill-opacity="0.42" stroke="#009b32" stroke-opacity="0.42" stroke-width="1"/>
<circle cx="138.6" cy="140.9" r="4.05" fill="#009b32" fill-opacity="0.42" stroke="#009b32" stroke-opacity="0.42" stroke-width="1"/>
<circle cx="142.8" cy="142.5" r="4.05" fill="#009b32" fill-opacity="0.42" stroke="#009b32" stroke-opacity="0.42" stroke-width="1"/>
<circle cx="127.4" cy="156.9" r="4.05" fill="#009b32" fill-opacity="0.42" stroke="#009b32" stroke-opacity="0.42" stroke-width="1"/>
<circle cx="124.6" cy="161.4" r="4.05" fill="#009b32" fill-opacity="0.42" stroke="#009b32" stroke-opacity="0.42" stroke-width="1"/>
<circle cx="133.7" cy="161.1" r="4.05" fill="#009b32" fill-opacity="0.42" stroke="#009b32" stroke-opacity="0.42" stroke-width="1"/>
<circle cx="153.9" cy="152.3" r="4.05" fill="#009b32" fill-opacity="0.42" stroke="#009b32" stroke-opacity="0.42" stroke-width="1"/>
<circle cx="158.1" cy="161.1" r="4.05" fill="#009b32" fill-opacity="0.42" stroke="#009b32" stroke-opacity="0.42" stroke-width="1"/>
<circle cx="160.9" cy="152.3" r="4.05" fill="#009b32" fill-opacity="0.42" stroke="#009b32" stroke-opacity="0.42" stroke-width="1"/>
<circle cx="165.8" cy="150.2" r="4.05" fill="#009b32" fill-opacity="0.42" stroke="#009b32" stroke-opacity="0.42" stroke-width="1"/>
<circle cx="170.1" cy="144.1" r="4.05" fill="#009b32" fill-opacity="0.42" stroke="#009b32" stroke-opacity="0.42" stroke-width="1"/>
<circle cx="163" cy="125.7" r="4.05" fill="#009b32" fill-opacity="0.42" stroke="#009b32" stroke-opacity="0.42" stroke-width="1"/>
<circle cx="169.3" cy="123.8" r="4.05" fill="#009b32" fill-opacity="0.42" stroke="#009b32" stroke-opacity="0.42" stroke-width="1"/>
<circle cx="166.2" cy="129.7" r="4.05" fill="#009b32" fill-opacity="0.42" stroke="#009b32" stroke-opacity="0.42" stroke-width="1"/>
<circle cx="173.3" cy="130.9" r="4.05" fill="#009b32" fill-opacity="0.42" stroke="#009b32" stroke-opacity="0.42" stroke-width="1"/>
<circle cx="174.9" cy="132.9" r="4.05" fill="#009b32" fill-opacity="0.42" stroke="#009b32" stroke-opacity="0.42" stroke-width="1"/>
<circle cx="178.9" cy="134.5" r="4.05" fill="#009b32" fill-opacity="0.42" stroke="#009b32" stroke-opacity="0.42" stroke-width="1"/>
<circle cx="180.5" cy="136.1" r="4.05" fill="#009b32" fill-opacity="0.42" stroke="#009b32" stroke-opacity="0.42" stroke-width="1"/>
<circle cx="175.7" cy="136.9" r="4.05" fill="#009b32" fill-opacity="0.42" stroke="#009b32" stroke-opacity="0.42" stroke-width="1"/>
<circle cx="173.3" cy="137.7" r="4.05" fill="#009b32" fill-opacity="0.42" stroke="#009b32" stroke-opacity="0.42" stroke-width="1"/>
<circle cx="176.5" cy="141.7" r="4.05" fill="#009b32" fill-opacity="0.42" stroke="#009b32" stroke-opacity="0.42" stroke-width="1"/>
<circle cx="164.6" cy="148.9" r="4.05" fill="#009b32" fill-opacity="0.42" stroke="#009b32" stroke-opacity="0.42" stroke-width="1"/>
<path d="M48.7,192.7L248.7,86.29" stroke="#0000ff" stroke-width="1.4" fill="none"/>
</g>
<rect x="48.7" y="21.5" width="201.8" height="196.5" fill="none" stroke="#505050" stroke-width="1"/>
<path d="M48.7,218.0v2.8M48.7,218h-2.8M48.7,21.5v2.8M250.5,218h-2.4M82.03,218.0v2.8M48.7,185.57h-2.8M82.03,21.5v2.8M250.5,185.57h-2.4M115.37,218.0v2.8M48.7,153.13h-2.8M115.37,21.5v2.8M250.5,153.13h-2.4M148.7,218.0v2.8M48.7,120.7h-2.8M148.7,21.5v2.8M250.5,120.7h-2.4M182.03,218.0v2.8M48.7,88.27h-2.8M182.03,21.5v2.8M250.5,88.27h-2.4M215.37,218.0v2.8M48.7,55.83h-2.8M215.37,21.5v2.8M250.5,55.83h-2.4M248.7,218.0v2.8M48.7,23.4h-2.8M248.7,21.5v2.8M250.5,23.4h-2.4" stroke="#505050" stroke-width="0.9" fill="none"/>
<g font-size="8.48" class="tk"><text transform="translate(38.59,229.5) scale(1.079,1)">4</text><text transform="translate(43.68,229.5) scale(1.079,1)">0</text><text transform="translate(48.77,229.5) scale(1.079,1)">0</text><text transform="translate(53.86,229.5) scale(1.079,1)">0</text></g>
<g font-size="8.48" class="tk"><text transform="translate(23.17,221) scale(1.079,1)">4</text><text transform="translate(28.26,221) scale(1.079,1)">0</text><text transform="translate(33.35,221) scale(1.079,1)">0</text><text transform="translate(38.44,221) scale(1.079,1)">0</text></g>
<g font-size="8.48" class="tk"><text transform="translate(71.81,229.5) scale(1.079,1)">5</text><text transform="translate(76.9,229.5) scale(1.079,1)">0</text><text transform="translate(81.99,229.5) scale(1.079,1)">0</text><text transform="translate(87.08,229.5) scale(1.079,1)">0</text></g>
<g font-size="8.48" class="tk"><text transform="translate(23.17,188.57) scale(1.079,1)">5</text><text transform="translate(28.26,188.57) scale(1.079,1)">0</text><text transform="translate(33.35,188.57) scale(1.079,1)">0</text><text transform="translate(38.44,188.57) scale(1.079,1)">0</text></g>
<g font-size="8.48" class="tk"><text transform="translate(105.17,229.5) scale(1.079,1)">6</text><text transform="translate(110.26,229.5) scale(1.079,1)">0</text><text transform="translate(115.35,229.5) scale(1.079,1)">0</text><text transform="translate(120.44,229.5) scale(1.079,1)">0</text></g>
<g font-size="8.48" class="tk"><text transform="translate(23.17,156.13) scale(1.079,1)">6</text><text transform="translate(28.26,156.13) scale(1.079,1)">0</text><text transform="translate(33.35,156.13) scale(1.079,1)">0</text><text transform="translate(38.44,156.13) scale(1.079,1)">0</text></g>
<g font-size="8.48" class="tk"><text transform="translate(138.46,229.5) scale(1.079,1)">7</text><text transform="translate(143.55,229.5) scale(1.079,1)">0</text><text transform="translate(148.64,229.5) scale(1.079,1)">0</text><text transform="translate(153.73,229.5) scale(1.079,1)">0</text></g>
<g font-size="8.48" class="tk"><text transform="translate(23.17,123.7) scale(1.079,1)">7</text><text transform="translate(28.26,123.7) scale(1.079,1)">0</text><text transform="translate(33.35,123.7) scale(1.079,1)">0</text><text transform="translate(38.44,123.7) scale(1.079,1)">0</text></g>
<g font-size="8.48" class="tk"><text transform="translate(171.85,229.5) scale(1.079,1)">8</text><text transform="translate(176.94,229.5) scale(1.079,1)">0</text><text transform="translate(182.03,229.5) scale(1.079,1)">0</text><text transform="translate(187.12,229.5) scale(1.079,1)">0</text></g>
<g font-size="8.48" class="tk"><text transform="translate(23.17,91.27) scale(1.079,1)">8</text><text transform="translate(28.26,91.27) scale(1.079,1)">0</text><text transform="translate(33.35,91.27) scale(1.079,1)">0</text><text transform="translate(38.44,91.27) scale(1.079,1)">0</text></g>
<g font-size="8.48" class="tk"><text transform="translate(205.2,229.5) scale(1.079,1)">9</text><text transform="translate(210.29,229.5) scale(1.079,1)">0</text><text transform="translate(215.38,229.5) scale(1.079,1)">0</text><text transform="translate(220.47,229.5) scale(1.079,1)">0</text></g>
<g font-size="8.48" class="tk"><text transform="translate(23.17,58.83) scale(1.079,1)">9</text><text transform="translate(28.26,58.83) scale(1.079,1)">0</text><text transform="translate(33.35,58.83) scale(1.079,1)">0</text><text transform="translate(38.44,58.83) scale(1.079,1)">0</text></g>
<text x="235.55" y="229.5" font-size="8.48" textLength="25.98" lengthAdjust="spacingAndGlyphs" class="tk">10,000</text>
<text x="17.66" y="26.4" font-size="8.48" textLength="25.67" lengthAdjust="spacingAndGlyphs" class="tk">10,000</text>
<g font-size="10.18" class="tt"><text transform="translate(51.67,39.2) scale(1.105,1)">(</text><text transform="translate(55.42,39.2) scale(1.037,1)">c</text><text transform="translate(60.7,39.2) scale(1.105,1)">)</text><text transform="translate(67.5,39.2) scale(0.968,1)">A</text><text transform="translate(74.06,39.2) scale(0.983,1)">s</text><text transform="translate(79.06,39.2) scale(0.983,1)">s</text><text transform="translate(84.13,39.2) scale(1.120,1)">i</text><text transform="translate(86.73,39.2) scale(1.103,1)">m</text><text transform="translate(96.15,39.2) scale(1.120,1)">i</text><text transform="translate(98.82,39.2) scale(1.120,1)">l</text><text transform="translate(101.42,39.2) scale(1.039,1)">a</text><text transform="translate(107.6,39.2) scale(1.120,1)">t</text><text transform="translate(111.13,39.2) scale(1.120,1)">i</text><text transform="translate(113.73,39.2) scale(1.038,1)">o</text><text transform="translate(119.61,39.2) scale(1.075,1)">n</text><text transform="translate(128.74,39.2) scale(1.068,1)">w</text><text transform="translate(136.66,39.2) scale(1.120,1)">i</text><text transform="translate(139.56,39.2) scale(1.120,1)">t</text><text transform="translate(143.02,39.2) scale(1.075,1)">h</text><text transform="translate(152.16,39.2) scale(0.945,1)">L</text><text transform="translate(157.51,39.2) scale(0.968,1)">A</text><text transform="translate(164.08,39.2) scale(1.001,1)">I</text></g>
<text x="52.23" y="67.4" font-size="10.18" textLength="6.23" lengthAdjust="spacingAndGlyphs" class="gr" font-style="italic">R</text>
<text x="59.77" y="64.1" font-size="7.1" textLength="3.66" lengthAdjust="spacingAndGlyphs" class="gr">2</text>
<text x="66" y="68.2" font-size="10.18" textLength="7.21" lengthAdjust="spacingAndGlyphs" class="gr">=</text>
<text x="75.99" y="67.5" font-size="10.18" textLength="20.51" lengthAdjust="spacingAndGlyphs" class="gr">0.39</text>
<g font-size="10.18" class="gr"><text transform="translate(52.21,81.8) scale(0.920,1)">R</text><text transform="translate(58.93,81.8) scale(0.977,1)">M</text><text transform="translate(67.14,81.8) scale(0.920,1)">S</text><text transform="translate(73.22,81.8) scale(0.920,1)">E</text><text transform="translate(80.06,81.8) scale(1.120,1)">=</text><text transform="translate(87.41,81.8) scale(1.079,1)">8</text><text transform="translate(93.52,81.8) scale(1.079,1)">2</text><text transform="translate(99.63,81.8) scale(1.079,1)">9</text><text transform="translate(108.79,81.8) scale(1.093,1)">k</text><text transform="translate(114.35,81.8) scale(1.077,1)">g</text><text transform="translate(120.48,81.8) scale(1.120,1)">/</text><text transform="translate(123.68,81.8) scale(1.075,1)">h</text><text transform="translate(129.76,81.8) scale(1.039,1)">a</text></g>
<rect x="153.6" y="173.5" width="90.9" height="39.5" rx="2" fill="#fff" fill-opacity="0.97" stroke="#d4d4d4" stroke-width="0.8"/>
<path d="M155.9,180.5h18.8" stroke="#000" stroke-width="1.3"/>
<path d="M156.2,193.6h18.5" stroke="#000" stroke-width="1.3" stroke-dasharray="4.6,2.1"/>
<path d="M155.9,206.5h18.8" stroke="#0000ff" stroke-width="1.3"/>
<g font-size="9.22" class="lg"><text transform="translate(181.34,183.8) scale(1.079,1)">1</text><text transform="translate(186.91,183.8) scale(1.120,1)">:</text><text transform="translate(189.81,183.8) scale(1.079,1)">1</text><text transform="translate(198.11,183.8) scale(0.945,1)">L</text><text transform="translate(203.02,183.8) scale(1.120,1)">i</text><text transform="translate(205.38,183.8) scale(1.075,1)">n</text><text transform="translate(210.89,183.8) scale(1.044,1)">e</text></g>
<g font-size="9.22" class="lg"><text transform="translate(181.34,196.6) scale(1.079,1)">1</text><text transform="translate(186.88,196.6) scale(1.079,1)">0</text><text transform="translate(192.41,196.6) scale(1.079,1)">0</text><text transform="translate(197.95,196.6) scale(1.079,1)">0</text><text transform="translate(206.25,196.6) scale(1.093,1)">k</text><text transform="translate(211.29,196.6) scale(1.077,1)">g</text><text transform="translate(219.58,196.6) scale(1.044,1)">e</text><text transform="translate(225,196.6) scale(1.120,1)">r</text><text transform="translate(228.57,196.6) scale(1.120,1)">r</text><text transform="translate(232.08,196.6) scale(1.038,1)">o</text><text transform="translate(237.47,196.6) scale(1.120,1)">r</text></g>
<g font-size="9.22" class="lg"><text transform="translate(181.36,209.4) scale(0.920,1)">F</text><text transform="translate(186.51,209.4) scale(1.120,1)">i</text><text transform="translate(189.14,209.4) scale(1.120,1)">t</text><text transform="translate(192.55,209.4) scale(1.120,1)">t</text><text transform="translate(195.75,209.4) scale(1.120,1)">i</text><text transform="translate(198.11,209.4) scale(1.075,1)">n</text><text transform="translate(203.62,209.4) scale(1.077,1)">g</text><text transform="translate(211.91,209.4) scale(0.945,1)">L</text><text transform="translate(216.82,209.4) scale(1.120,1)">i</text><text transform="translate(219.17,209.4) scale(1.075,1)">n</text><text transform="translate(224.69,209.4) scale(1.044,1)">e</text></g>
<path d="M125.1,21.5V16.7H138.7V21.5ZM138.7,21.5V16.7H152.4V21.5ZM152.4,21.5V9.9H166.0V21.5ZM166.0,21.5V2.8H179.6V21.5Z" fill="#9c9cfa"/>
<path d="M96.5,21.2C97.92,21.13 102.42,21 105,20.8C107.58,20.6 109.83,20.37 112,20C114.17,19.63 116,19.12 118,18.6C120,18.08 121.67,17.32 124,16.9C126.33,16.48 129,16.3 132,16.1C135,15.9 139,15.92 142,15.7C145,15.48 147.33,15.53 150,14.8C152.67,14.07 155.67,12.4 158,11.3C160.33,10.2 162,8.87 164,8.2C166,7.53 168.17,7.28 170,7.3C171.83,7.32 173.17,7.52 175,8.3C176.83,9.08 179,10.63 181,12C183,13.37 185,15.25 187,16.5C189,17.75 190.83,18.78 193,19.5C195.17,20.22 197.62,20.52 200,20.8C202.38,21.08 206.08,21.13 207.3,21.2" stroke="#0000ff" stroke-width="1.4" fill="none"/>
<path d="M250.5,122.7H270V135.6H250.5ZM250.5,135.6H265.2V148.5H250.5ZM250.5,148.5H267.6V160.9H250.5Z" fill="#9c9cfa"/>
<path d="M250.7,84.4C250.72,85.73 250.72,89.9 250.8,92.4C250.88,94.9 250.93,97.07 251.2,99.4C251.47,101.73 251.77,104.15 252.4,106.4C253.03,108.65 253.82,110.65 255,112.9C256.18,115.15 257.92,117.57 259.5,119.9C261.08,122.23 263,124.9 264.5,126.9C266,128.9 267.62,130.48 268.5,131.9C269.38,133.32 269.75,134.15 269.8,135.4C269.85,136.65 269.35,138.07 268.8,139.4C268.25,140.73 267.28,142.12 266.5,143.4C265.72,144.68 264.8,145.68 264.1,147.1C263.4,148.52 262.75,150.35 262.3,151.9C261.85,153.45 261.78,154.9 261.4,156.4C261.02,157.9 260.77,159.32 260,160.9C259.23,162.48 257.9,164.32 256.8,165.9C255.7,167.48 254.33,168.82 253.4,170.4C252.47,171.98 251.65,173.73 251.2,175.4C250.75,177.07 250.78,179.57 250.7,180.4" stroke="#0000ff" stroke-width="1.4" fill="none"/>
<g font-size="10.18" class="al"><text transform="translate(93.12,241.6) scale(0.977,1)">M</text><text transform="translate(101.4,241.6) scale(1.044,1)">e</text><text transform="translate(107.3,241.6) scale(1.039,1)">a</text><text transform="translate(113.19,241.6) scale(0.983,1)">s</text><text transform="translate(118.19,241.6) scale(1.075,1)">u</text><text transform="translate(124.35,241.6) scale(1.120,1)">r</text><text transform="translate(128.22,241.6) scale(1.044,1)">e</text><text transform="translate(134.13,241.6) scale(1.077,1)">d</text><text transform="translate(143.08,241.6) scale(0.920,1)">Y</text><text transform="translate(149.2,241.6) scale(1.120,1)">i</text><text transform="translate(151.8,241.6) scale(1.044,1)">e</text><text transform="translate(157.78,241.6) scale(1.120,1)">l</text><text transform="translate(160.38,241.6) scale(1.077,1)">d</text><text transform="translate(169.52,241.6) scale(1.105,1)">(</text><text transform="translate(173.27,241.6) scale(1.093,1)">k</text><text transform="translate(178.83,241.6) scale(1.077,1)">g</text><text transform="translate(184.95,241.6) scale(1.120,1)">/</text><text transform="translate(188.15,241.6) scale(1.075,1)">h</text><text transform="translate(194.24,241.6) scale(1.039,1)">a</text><text transform="translate(200.12,241.6) scale(1.105,1)">)</text></g>
<g transform="translate(12.8,120.8) rotate(-90)"><g font-size="10.18" class="al"><text transform="translate(-56.06,0) scale(0.920,1)">S</text><text transform="translate(-49.82,0) scale(1.120,1)">i</text><text transform="translate(-47.22,0) scale(1.103,1)">m</text><text transform="translate(-37.87,0) scale(1.075,1)">u</text><text transform="translate(-31.72,0) scale(1.120,1)">l</text><text transform="translate(-29.12,0) scale(1.039,1)">a</text><text transform="translate(-22.94,0) scale(1.120,1)">t</text><text transform="translate(-19.47,0) scale(1.044,1)">e</text><text transform="translate(-13.57,0) scale(1.077,1)">d</text><text transform="translate(-4.61,0) scale(0.920,1)">Y</text><text transform="translate(1.51,0) scale(1.120,1)">i</text><text transform="translate(4.11,0) scale(1.044,1)">e</text><text transform="translate(10.08,0) scale(1.120,1)">l</text><text transform="translate(12.68,0) scale(1.077,1)">d</text><text transform="translate(21.83,0) scale(1.105,1)">(</text><text transform="translate(25.57,0) scale(1.093,1)">k</text><text transform="translate(31.13,0) scale(1.077,1)">g</text><text transform="translate(37.26,0) scale(1.120,1)">/</text><text transform="translate(40.46,0) scale(1.075,1)">h</text><text transform="translate(46.55,0) scale(1.039,1)">a</text><text transform="translate(52.43,0) scale(1.105,1)">)</text></g></g>
</g><g transform="translate(276.8,253.6)">
<clipPath id="cd"><rect x="48.7" y="21.5" width="201.8" height="196.5"/></clipPath>
<path d="M82.03,21.5V218.0M48.7,185.57H250.5M115.37,21.5V218.0M48.7,153.13H250.5M148.7,21.5V218.0M48.7,120.7H250.5M182.03,21.5V218.0M48.7,88.27H250.5M215.37,21.5V218.0M48.7,55.83H250.5" stroke="#b4b4b4" stroke-width="0.7" stroke-dasharray="1.9,1.4" fill="none"/>
<path d="M248.7,21.5V218.0M48.7,23.4H250.5" stroke="#b4b4b4" stroke-opacity="0.4" stroke-width="0.7" stroke-dasharray="1.9,1.4" fill="none"/>
<g clip-path="url(#cd)">
<path d="M48.7,218L252.03,20.16" stroke="#000" stroke-width="1.3" fill="none"/>
<path d="M48.7,185.57L218.7,20.16M82.03,218L252.03,52.59" stroke="#000" stroke-width="1.3" stroke-dasharray="4.2,2" fill="none"/>
<circle cx="142.6" cy="114.2" r="4.05" fill="#009b32" fill-opacity="0.42" stroke="#009b32" stroke-opacity="0.42" stroke-width="1"/>
<circle cx="124.5" cy="141.8" r="4.05" fill="#009b32" fill-opacity="0.42" stroke="#009b32" stroke-opacity="0.42" stroke-width="1"/>
<circle cx="127.3" cy="148.8" r="4.05" fill="#009b32" fill-opacity="0.42" stroke="#009b32" stroke-opacity="0.42" stroke-width="1"/>
<circle cx="132.8" cy="145.3" r="4.05" fill="#009b32" fill-opacity="0.42" stroke="#009b32" stroke-opacity="0.42" stroke-width="1"/>
<circle cx="138.4" cy="139.8" r="4.05" fill="#009b32" fill-opacity="0.42" stroke="#009b32" stroke-opacity="0.42" stroke-width="1"/>
<circle cx="151" cy="143.9" r="4.05" fill="#009b32" fill-opacity="0.42" stroke="#009b32" stroke-opacity="0.42" stroke-width="1"/>
<circle cx="152.4" cy="133.5" r="4.05" fill="#009b32" fill-opacity="0.42" stroke="#009b32" stroke-opacity="0.42" stroke-width="1"/>
<circle cx="156.6" cy="128.6" r="4.05" fill="#009b32" fill-opacity="0.42" stroke="#009b32" stroke-opacity="0.42" stroke-width="1"/>
<circle cx="160" cy="124.4" r="4.05" fill="#009b32" fill-opacity="0.42" stroke="#009b32" stroke-opacity="0.42" stroke-width="1"/>
<circle cx="164.2" cy="129.3" r="4.05" fill="#009b32" fill-opacity="0.42" stroke="#009b32" stroke-opacity="0.42" stroke-width="1"/>
<circle cx="161.4" cy="121.6" r="4.05" fill="#009b32" fill-opacity="0.42" stroke="#009b32" stroke-opacity="0.42" stroke-width="1"/>
<circle cx="164.9" cy="111.9" r="4.05" fill="#009b32" fill-opacity="0.42" stroke="#009b32" stroke-opacity="0.42" stroke-width="1"/>
<circle cx="169.1" cy="109.1" r="4.05" fill="#009b32" fill-opacity="0.42" stroke="#009b32" stroke-opacity="0.42" stroke-width="1"/>
<circle cx="167" cy="115.4" r="4.05" fill="#009b32" fill-opacity="0.42" stroke="#009b32" stroke-opacity="0.42" stroke-width="1"/>
<circle cx="169.8" cy="138.4" r="4.05" fill="#009b32" fill-opacity="0.42" stroke="#009b32" stroke-opacity="0.42" stroke-width="1"/>
<circle cx="173.7" cy="121.4" r="4.05" fill="#009b32" fill-opacity="0.42" stroke="#009b32" stroke-opacity="0.42" stroke-width="1"/>
<circle cx="174" cy="120.9" r="4.05" fill="#009b32" fill-opacity="0.42" stroke="#009b32" stroke-opacity="0.42" stroke-width="1"/>
<circle cx="178.2" cy="118.1" r="4.05" fill="#009b32" fill-opacity="0.42" stroke="#009b32" stroke-opacity="0.42" stroke-width="1"/>
<circle cx="179.6" cy="120.9" r="4.05" fill="#009b32" fill-opacity="0.42" stroke="#009b32" stroke-opacity="0.42" stroke-width="1"/>
<circle cx="175.4" cy="127.2" r="4.05" fill="#009b32" fill-opacity="0.42" stroke="#009b32" stroke-opacity="0.42" stroke-width="1"/>
<circle cx="174" cy="130" r="4.05" fill="#009b32" fill-opacity="0.42" stroke="#009b32" stroke-opacity="0.42" stroke-width="1"/>
<circle cx="176.1" cy="124.4" r="4.05" fill="#009b32" fill-opacity="0.42" stroke="#009b32" stroke-opacity="0.42" stroke-width="1"/>
<circle cx="174.2" cy="130.9" r="4.05" fill="#009b32" fill-opacity="0.42" stroke="#009b32" stroke-opacity="0.42" stroke-width="1"/>
<path d="M48.7,172.79L248.7,79.57" stroke="#0000ff" stroke-width="1.4" fill="none"/>
</g>
<rect x="48.7" y="21.5" width="201.8" height="196.5" fill="none" stroke="#505050" stroke-width="1"/>
<path d="M48.7,218.0v2.8M48.7,218h-2.8M48.7,21.5v2.8M250.5,218h-2.4M82.03,218.0v2.8M48.7,185.57h-2.8M82.03,21.5v2.8M250.5,185.57h-2.4M115.37,218.0v2.8M48.7,153.13h-2.8M115.37,21.5v2.8M250.5,153.13h-2.4M148.7,218.0v2.8M48.7,120.7h-2.8M148.7,21.5v2.8M250.5,120.7h-2.4M182.03,218.0v2.8M48.7,88.27h-2.8M182.03,21.5v2.8M250.5,88.27h-2.4M215.37,218.0v2.8M48.7,55.83h-2.8M215.37,21.5v2.8M250.5,55.83h-2.4M248.7,218.0v2.8M48.7,23.4h-2.8M248.7,21.5v2.8M250.5,23.4h-2.4" stroke="#505050" stroke-width="0.9" fill="none"/>
<g font-size="8.48" class="tk"><text transform="translate(38.59,229.5) scale(1.079,1)">4</text><text transform="translate(43.68,229.5) scale(1.079,1)">0</text><text transform="translate(48.77,229.5) scale(1.079,1)">0</text><text transform="translate(53.86,229.5) scale(1.079,1)">0</text></g>
<g font-size="8.48" class="tk"><text transform="translate(23.17,221) scale(1.079,1)">4</text><text transform="translate(28.26,221) scale(1.079,1)">0</text><text transform="translate(33.35,221) scale(1.079,1)">0</text><text transform="translate(38.44,221) scale(1.079,1)">0</text></g>
<g font-size="8.48" class="tk"><text transform="translate(71.81,229.5) scale(1.079,1)">5</text><text transform="translate(76.9,229.5) scale(1.079,1)">0</text><text transform="translate(81.99,229.5) scale(1.079,1)">0</text><text transform="translate(87.08,229.5) scale(1.079,1)">0</text></g>
<g font-size="8.48" class="tk"><text transform="translate(23.17,188.57) scale(1.079,1)">5</text><text transform="translate(28.26,188.57) scale(1.079,1)">0</text><text transform="translate(33.35,188.57) scale(1.079,1)">0</text><text transform="translate(38.44,188.57) scale(1.079,1)">0</text></g>
<g font-size="8.48" class="tk"><text transform="translate(105.17,229.5) scale(1.079,1)">6</text><text transform="translate(110.26,229.5) scale(1.079,1)">0</text><text transform="translate(115.35,229.5) scale(1.079,1)">0</text><text transform="translate(120.44,229.5) scale(1.079,1)">0</text></g>
<g font-size="8.48" class="tk"><text transform="translate(23.17,156.13) scale(1.079,1)">6</text><text transform="translate(28.26,156.13) scale(1.079,1)">0</text><text transform="translate(33.35,156.13) scale(1.079,1)">0</text><text transform="translate(38.44,156.13) scale(1.079,1)">0</text></g>
<g font-size="8.48" class="tk"><text transform="translate(138.46,229.5) scale(1.079,1)">7</text><text transform="translate(143.55,229.5) scale(1.079,1)">0</text><text transform="translate(148.64,229.5) scale(1.079,1)">0</text><text transform="translate(153.73,229.5) scale(1.079,1)">0</text></g>
<g font-size="8.48" class="tk"><text transform="translate(23.17,123.7) scale(1.079,1)">7</text><text transform="translate(28.26,123.7) scale(1.079,1)">0</text><text transform="translate(33.35,123.7) scale(1.079,1)">0</text><text transform="translate(38.44,123.7) scale(1.079,1)">0</text></g>
<g font-size="8.48" class="tk"><text transform="translate(171.85,229.5) scale(1.079,1)">8</text><text transform="translate(176.94,229.5) scale(1.079,1)">0</text><text transform="translate(182.03,229.5) scale(1.079,1)">0</text><text transform="translate(187.12,229.5) scale(1.079,1)">0</text></g>
<g font-size="8.48" class="tk"><text transform="translate(23.17,91.27) scale(1.079,1)">8</text><text transform="translate(28.26,91.27) scale(1.079,1)">0</text><text transform="translate(33.35,91.27) scale(1.079,1)">0</text><text transform="translate(38.44,91.27) scale(1.079,1)">0</text></g>
<g font-size="8.48" class="tk"><text transform="translate(205.2,229.5) scale(1.079,1)">9</text><text transform="translate(210.29,229.5) scale(1.079,1)">0</text><text transform="translate(215.38,229.5) scale(1.079,1)">0</text><text transform="translate(220.47,229.5) scale(1.079,1)">0</text></g>
<g font-size="8.48" class="tk"><text transform="translate(23.17,58.83) scale(1.079,1)">9</text><text transform="translate(28.26,58.83) scale(1.079,1)">0</text><text transform="translate(33.35,58.83) scale(1.079,1)">0</text><text transform="translate(38.44,58.83) scale(1.079,1)">0</text></g>
<text x="235.55" y="229.5" font-size="8.48" textLength="25.98" lengthAdjust="spacingAndGlyphs" class="tk">10,000</text>
<text x="17.66" y="26.4" font-size="8.48" textLength="25.67" lengthAdjust="spacingAndGlyphs" class="tk">10,000</text>
<g font-size="10.18" class="tt"><text transform="translate(51.67,39.2) scale(1.105,1)">(</text><text transform="translate(55.42,39.2) scale(1.077,1)">d</text><text transform="translate(61.51,39.2) scale(1.105,1)">)</text><text transform="translate(68.31,39.2) scale(0.968,1)">A</text><text transform="translate(74.88,39.2) scale(0.983,1)">s</text><text transform="translate(79.88,39.2) scale(0.983,1)">s</text><text transform="translate(84.95,39.2) scale(1.120,1)">i</text><text transform="translate(87.55,39.2) scale(1.103,1)">m</text><text transform="translate(96.97,39.2) scale(1.120,1)">i</text><text transform="translate(99.63,39.2) scale(1.120,1)">l</text><text transform="translate(102.23,39.2) scale(1.039,1)">a</text><text transform="translate(108.42,39.2) scale(1.120,1)">t</text><text transform="translate(111.95,39.2) scale(1.120,1)">i</text><text transform="translate(114.55,39.2) scale(1.038,1)">o</text><text transform="translate(120.42,39.2) scale(1.075,1)">n</text><text transform="translate(129.56,39.2) scale(1.068,1)">w</text><text transform="translate(137.48,39.2) scale(1.120,1)">i</text><text transform="translate(140.38,39.2) scale(1.120,1)">t</text><text transform="translate(143.84,39.2) scale(1.075,1)">h</text><text transform="translate(152.98,39.2) scale(0.945,1)">L</text><text transform="translate(158.32,39.2) scale(0.968,1)">A</text><text transform="translate(164.89,39.2) scale(1.001,1)">I</text><text transform="translate(168.42,39.2) scale(1.120,1)">+</text><text transform="translate(175.69,39.2) scale(0.920,1)">S</text><text transform="translate(181.86,39.2) scale(0.977,1)">M</text></g>
<text x="52.23" y="67.4" font-size="10.18" textLength="6.23" lengthAdjust="spacingAndGlyphs" class="gr" font-style="italic">R</text>
<text x="59.77" y="64.1" font-size="7.1" textLength="3.66" lengthAdjust="spacingAndGlyphs" class="gr">2</text>
<text x="66" y="68.2" font-size="10.18" textLength="7.21" lengthAdjust="spacingAndGlyphs" class="gr">=</text>
<text x="75.99" y="67.5" font-size="10.18" textLength="20.54" lengthAdjust="spacingAndGlyphs" class="gr">0.42</text>
<g font-size="10.18" class="gr"><text transform="translate(52.21,81.8) scale(0.920,1)">R</text><text transform="translate(58.93,81.8) scale(0.977,1)">M</text><text transform="translate(67.14,81.8) scale(0.920,1)">S</text><text transform="translate(73.22,81.8) scale(0.920,1)">E</text><text transform="translate(80.06,81.8) scale(1.120,1)">=</text><text transform="translate(87.41,81.8) scale(1.079,1)">7</text><text transform="translate(93.52,81.8) scale(1.079,1)">3</text><text transform="translate(99.63,81.8) scale(1.079,1)">6</text><text transform="translate(108.79,81.8) scale(1.093,1)">k</text><text transform="translate(114.35,81.8) scale(1.077,1)">g</text><text transform="translate(120.48,81.8) scale(1.120,1)">/</text><text transform="translate(123.68,81.8) scale(1.075,1)">h</text><text transform="translate(129.76,81.8) scale(1.039,1)">a</text></g>
<rect x="153.6" y="173.5" width="90.9" height="39.5" rx="2" fill="#fff" fill-opacity="0.97" stroke="#d4d4d4" stroke-width="0.8"/>
<path d="M155.9,180.5h18.8" stroke="#000" stroke-width="1.3"/>
<path d="M156.2,193.6h18.5" stroke="#000" stroke-width="1.3" stroke-dasharray="4.6,2.1"/>
<path d="M155.9,206.5h18.8" stroke="#0000ff" stroke-width="1.3"/>
<g font-size="9.22" class="lg"><text transform="translate(181.34,183.8) scale(1.079,1)">1</text><text transform="translate(186.91,183.8) scale(1.120,1)">:</text><text transform="translate(189.81,183.8) scale(1.079,1)">1</text><text transform="translate(198.11,183.8) scale(0.945,1)">L</text><text transform="translate(203.02,183.8) scale(1.120,1)">i</text><text transform="translate(205.38,183.8) scale(1.075,1)">n</text><text transform="translate(210.89,183.8) scale(1.044,1)">e</text></g>
<g font-size="9.22" class="lg"><text transform="translate(181.34,196.6) scale(1.079,1)">1</text><text transform="translate(186.88,196.6) scale(1.079,1)">0</text><text transform="translate(192.41,196.6) scale(1.079,1)">0</text><text transform="translate(197.95,196.6) scale(1.079,1)">0</text><text transform="translate(206.25,196.6) scale(1.093,1)">k</text><text transform="translate(211.29,196.6) scale(1.077,1)">g</text><text transform="translate(219.58,196.6) scale(1.044,1)">e</text><text transform="translate(225,196.6) scale(1.120,1)">r</text><text transform="translate(228.57,196.6) scale(1.120,1)">r</text><text transform="translate(232.08,196.6) scale(1.038,1)">o</text><text transform="translate(237.47,196.6) scale(1.120,1)">r</text></g>
<g font-size="9.22" class="lg"><text transform="translate(181.36,209.4) scale(0.920,1)">F</text><text transform="translate(186.51,209.4) scale(1.120,1)">i</text><text transform="translate(189.14,209.4) scale(1.120,1)">t</text><text transform="translate(192.55,209.4) scale(1.120,1)">t</text><text transform="translate(195.75,209.4) scale(1.120,1)">i</text><text transform="translate(198.11,209.4) scale(1.075,1)">n</text><text transform="translate(203.62,209.4) scale(1.077,1)">g</text><text transform="translate(211.91,209.4) scale(0.945,1)">L</text><text transform="translate(216.82,209.4) scale(1.120,1)">i</text><text transform="translate(219.17,209.4) scale(1.075,1)">n</text><text transform="translate(224.69,209.4) scale(1.044,1)">e</text></g>
<path d="M125.1,21.5V16.7H138.7V21.5ZM138.7,21.5V16.7H152.4V21.5ZM152.4,21.5V9.9H166.0V21.5ZM166.0,21.5V2.8H179.6V21.5Z" fill="#9c9cfa"/>
<path d="M96.5,21.2C97.92,21.13 102.42,21 105,20.8C107.58,20.6 109.83,20.37 112,20C114.17,19.63 116,19.12 118,18.6C120,18.08 121.67,17.32 124,16.9C126.33,16.48 129,16.3 132,16.1C135,15.9 139,15.92 142,15.7C145,15.48 147.33,15.53 150,14.8C152.67,14.07 155.67,12.4 158,11.3C160.33,10.2 162,8.87 164,8.2C166,7.53 168.17,7.28 170,7.3C171.83,7.32 173.17,7.52 175,8.3C176.83,9.08 179,10.63 181,12C183,13.37 185,15.25 187,16.5C189,17.75 190.83,18.78 193,19.5C195.17,20.22 197.62,20.52 200,20.8C202.38,21.08 206.08,21.13 207.3,21.2" stroke="#0000ff" stroke-width="1.4" fill="none"/>
<path d="M250.5,110.2H261.9V119.8H250.5ZM250.5,119.8H270.1V129.4H250.5ZM250.5,129.4H260.1V139H250.5ZM250.5,139H262.9V148.6H250.5Z" fill="#9c9cfa"/>
<path d="M250.7,87.4C250.72,88.4 250.68,91.57 250.8,93.4C250.92,95.23 250.93,96.57 251.4,98.4C251.87,100.23 252.45,102.4 253.6,104.4C254.75,106.4 256.72,108.4 258.3,110.4C259.88,112.4 261.78,114.48 263.1,116.4C264.42,118.32 265.63,120.48 266.2,121.9C266.77,123.32 266.75,123.82 266.5,124.9C266.25,125.98 265.33,127.07 264.7,128.4C264.07,129.73 263.47,131.23 262.7,132.9C261.93,134.57 260.93,136.48 260.1,138.4C259.27,140.32 258.68,142.4 257.7,144.4C256.72,146.4 255.25,148.4 254.2,150.4C253.15,152.4 251.97,154.4 251.4,156.4C250.83,158.4 250.92,160.57 250.8,162.4C250.68,164.23 250.72,166.57 250.7,167.4" stroke="#0000ff" stroke-width="1.4" fill="none"/>
<g font-size="10.18" class="al"><text transform="translate(93.12,241.6) scale(0.977,1)">M</text><text transform="translate(101.4,241.6) scale(1.044,1)">e</text><text transform="translate(107.3,241.6) scale(1.039,1)">a</text><text transform="translate(113.19,241.6) scale(0.983,1)">s</text><text transform="translate(118.19,241.6) scale(1.075,1)">u</text><text transform="translate(124.35,241.6) scale(1.120,1)">r</text><text transform="translate(128.22,241.6) scale(1.044,1)">e</text><text transform="translate(134.13,241.6) scale(1.077,1)">d</text><text transform="translate(143.08,241.6) scale(0.920,1)">Y</text><text transform="translate(149.2,241.6) scale(1.120,1)">i</text><text transform="translate(151.8,241.6) scale(1.044,1)">e</text><text transform="translate(157.78,241.6) scale(1.120,1)">l</text><text transform="translate(160.38,241.6) scale(1.077,1)">d</text><text transform="translate(169.52,241.6) scale(1.105,1)">(</text><text transform="translate(173.27,241.6) scale(1.093,1)">k</text><text transform="translate(178.83,241.6) scale(1.077,1)">g</text><text transform="translate(184.95,241.6) scale(1.120,1)">/</text><text transform="translate(188.15,241.6) scale(1.075,1)">h</text><text transform="translate(194.24,241.6) scale(1.039,1)">a</text><text transform="translate(200.12,241.6) scale(1.105,1)">)</text></g>
<g transform="translate(12.8,120.8) rotate(-90)"><g font-size="10.18" class="al"><text transform="translate(-56.06,0) scale(0.920,1)">S</text><text transform="translate(-49.82,0) scale(1.120,1)">i</text><text transform="translate(-47.22,0) scale(1.103,1)">m</text><text transform="translate(-37.87,0) scale(1.075,1)">u</text><text transform="translate(-31.72,0) scale(1.120,1)">l</text><text transform="translate(-29.12,0) scale(1.039,1)">a</text><text transform="translate(-22.94,0) scale(1.120,1)">t</text><text transform="translate(-19.47,0) scale(1.044,1)">e</text><text transform="translate(-13.57,0) scale(1.077,1)">d</text><text transform="translate(-4.61,0) scale(0.920,1)">Y</text><text transform="translate(1.51,0) scale(1.120,1)">i</text><text transform="translate(4.11,0) scale(1.044,1)">e</text><text transform="translate(10.08,0) scale(1.120,1)">l</text><text transform="translate(12.68,0) scale(1.077,1)">d</text><text transform="translate(21.83,0) scale(1.105,1)">(</text><text transform="translate(25.57,0) scale(1.093,1)">k</text><text transform="translate(31.13,0) scale(1.077,1)">g</text><text transform="translate(37.26,0) scale(1.120,1)">/</text><text transform="translate(40.46,0) scale(1.075,1)">h</text><text transform="translate(46.55,0) scale(1.039,1)">a</text><text transform="translate(52.43,0) scale(1.105,1)">)</text></g></g>
</g>
</svg>
</body></html>
